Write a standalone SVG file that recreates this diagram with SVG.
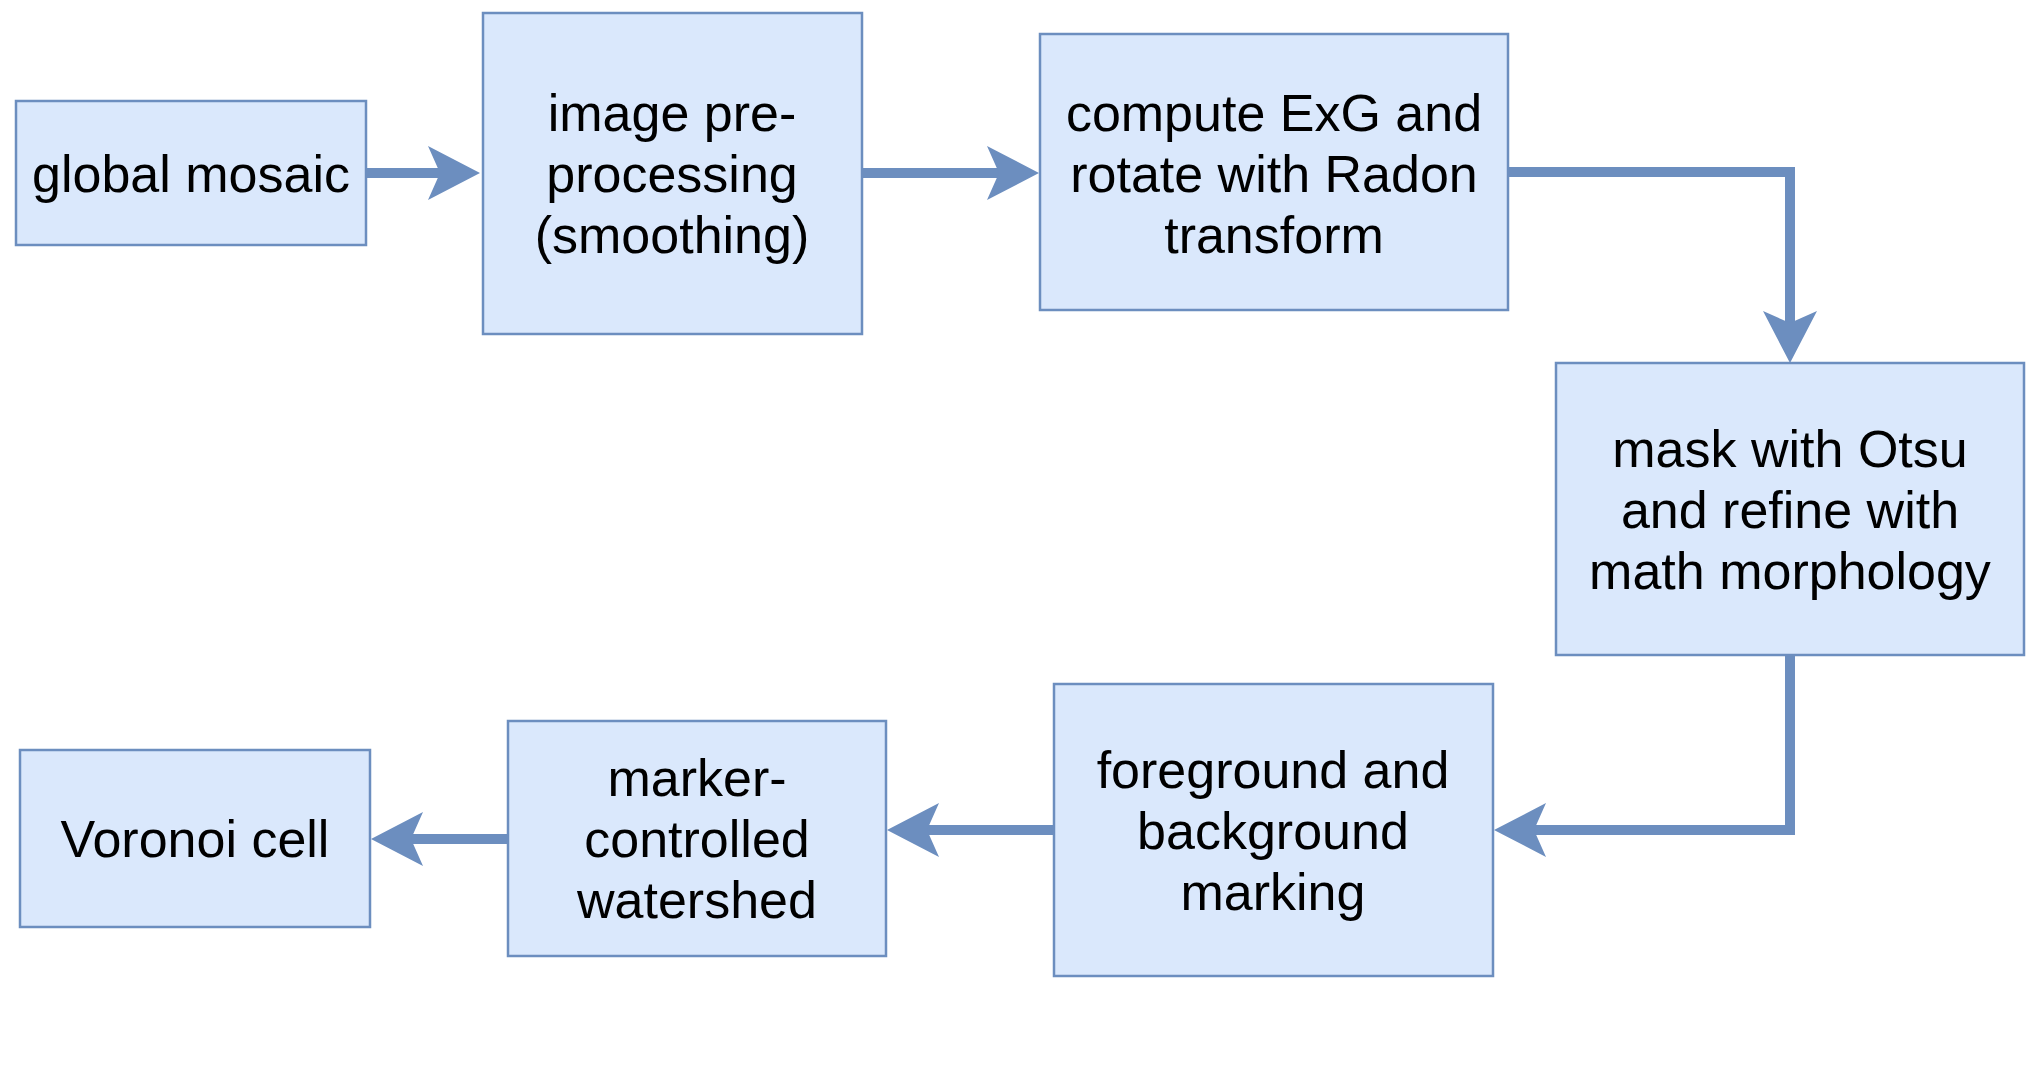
<svg xmlns="http://www.w3.org/2000/svg" width="2036" height="1068" viewBox="0 0 2036 1068">
  <style>
    .box { fill: #dae8fc; stroke: #6c8ebf; stroke-width: 2.5; }
    .lbl { font-family: "Liberation Sans", Arial, Helvetica, sans-serif; font-size: 52px; fill: #000000; text-anchor: middle; }
    .edge { fill: none; stroke: #6c8ebf; stroke-width: 10; stroke-linejoin: miter; marker-end: url(#head); }
  </style>
  <defs>
    <marker id="head" markerUnits="userSpaceOnUse" viewBox="0 0 52 54" markerWidth="52" markerHeight="54" refX="12" refY="27" orient="auto">
      <path d="M0,0 L52,27 L0,54 L12,27 Z" fill="#6c8ebf"/>
    </marker>
  </defs>
  <rect width="2036" height="1068" fill="#ffffff"/>

  <g id="connectors">
    <path class="edge" d="M366,173 L440,173"/>
    <path class="edge" d="M862,173 L999,173"/>
    <path class="edge" d="M1508,172 L1790,172 L1790,323"/>
    <path class="edge" d="M1790,655 L1790,830 L1534,830"/>
    <path class="edge" d="M1054,830 L927,830"/>
    <path class="edge" d="M508,839 L411,839"/>
  </g>

  <g id="global-mosaic">
    <rect class="box" x="16" y="101" width="350" height="144"/>
    <text class="lbl" x="191" y="192">global mosaic</text>
  </g>

  <g id="image-preprocessing">
    <rect class="box" x="483" y="13" width="379" height="321"/>
    <text class="lbl" x="672" y="131">image pre-</text>
    <text class="lbl" x="672" y="192">processing</text>
    <text class="lbl" x="672" y="253">(smoothing)</text>
  </g>

  <g id="compute-exg">
    <rect class="box" x="1040" y="34" width="468" height="276"/>
    <text class="lbl" x="1274" y="131">compute ExG and</text>
    <text class="lbl" x="1274" y="192">rotate with Radon</text>
    <text class="lbl" x="1274" y="253">transform</text>
  </g>

  <g id="mask-otsu">
    <rect class="box" x="1556" y="363" width="468" height="292"/>
    <text class="lbl" x="1790" y="467">mask with Otsu</text>
    <text class="lbl" x="1790" y="528">and refine with</text>
    <text class="lbl" x="1790" y="589">math morphology</text>
  </g>

  <g id="foreground-background">
    <rect class="box" x="1054" y="684" width="439" height="292"/>
    <text class="lbl" x="1273" y="788">foreground and</text>
    <text class="lbl" x="1273" y="849">background</text>
    <text class="lbl" x="1273" y="910">marking</text>
  </g>

  <g id="marker-watershed">
    <rect class="box" x="508" y="721" width="378" height="235"/>
    <text class="lbl" x="697" y="796">marker-</text>
    <text class="lbl" x="697" y="857">controlled</text>
    <text class="lbl" x="697" y="918">watershed</text>
  </g>

  <g id="voronoi-cell">
    <rect class="box" x="20" y="750" width="350" height="177"/>
    <text class="lbl" x="195" y="857">Voronoi cell</text>
  </g>
</svg>
